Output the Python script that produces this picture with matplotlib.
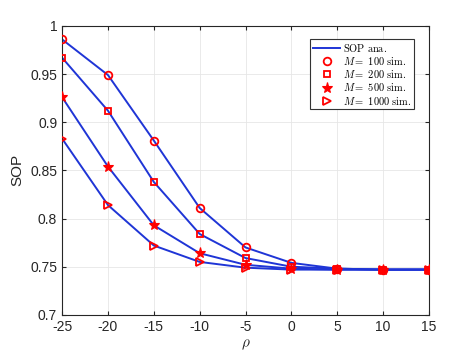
import matplotlib
matplotlib.use("Agg")
import matplotlib.pyplot as plt
import numpy as np

rho = [-25, -20, -15, -10, -5, 0, 5, 10, 15]
sop_m100 = [0.986, 0.949, 0.881, 0.811, 0.770, 0.754, 0.748, 0.747, 0.747]
sop_m200 = [0.967, 0.912, 0.838, 0.784, 0.759, 0.750, 0.748, 0.747, 0.747]
sop_m500 = [0.926, 0.854, 0.793, 0.764, 0.752, 0.748, 0.747, 0.747, 0.747]
sop_m1000 = [0.883, 0.814, 0.772, 0.755, 0.749, 0.747, 0.747, 0.747, 0.747]

series = [sop_m100, sop_m200, sop_m500, sop_m1000]
markers = ['o', 's', '*', '>']
msizes = [5.5, 4.5, 8, 5.5]
labels = [r'$M\mathrm{=\ 100\ sim.}$', r'$M\mathrm{=\ 200\ sim.}$',
          r'$M\mathrm{=\ 500\ sim.}$', r'$M\mathrm{=\ 1000\ sim.}$']

plt.rcParams['mathtext.fontset'] = 'cm'
plt.rcParams['font.family'] = ['Liberation Sans', 'DejaVu Sans']

fig = plt.figure(figsize=(4.74, 3.55), dpi=100)
ax = fig.add_axes([0.131, 0.113, 0.774, 0.814])

for s in series:
    ax.plot(rho, s, color='#1f35d6', lw=1.4, zorder=2)
handles = []
for s, m, ms, lab in zip(series, markers, msizes, labels):
    if m == '*':
        h, = ax.plot(rho, s, ls='none', marker=m, ms=ms, mfc='red', mec='red',
                     mew=0.8, label=lab, zorder=3)
    else:
        h, = ax.plot(rho, s, ls='none', marker=m, ms=ms, mfc='none', mec='red',
                     mew=1.3, label=lab, zorder=3)
    handles.append(h)

from matplotlib.lines import Line2D
ana = Line2D([], [], color='#1f35d6', lw=1.4)
leg = ax.legend([ana] + handles, [r'$\mathrm{SOP\ ana.}$'] + labels,
                loc='upper right', bbox_to_anchor=(0.96, 0.955),
                fontsize=7.5, fancybox=False, edgecolor='#333333',
                framealpha=1, borderpad=0.25, labelspacing=0.12,
                handlelength=2.6, handletextpad=0.3, borderaxespad=0)
leg.get_frame().set_linewidth(0.8)

ax.set_xlim(-25, 15)
ax.set_ylim(0.7, 1.0)
ax.set_xticks(rho)
ax.set_xticklabels([str(v) for v in rho])
ax.set_yticks([0.7, 0.75, 0.8, 0.85, 0.9, 0.95, 1.0])
ax.set_yticklabels(['0.7', '0.75', '0.8', '0.85', '0.9', '0.95', '1'])
ax.grid(True, color='#e6e6e6', lw=0.6)
ax.set_axisbelow(True)
for sp in ax.spines.values():
    sp.set_color('#262626')
    sp.set_linewidth(0.8)
ax.tick_params(direction='in', length=3, colors='#262626', labelsize=10,
               top=True, right=True, labeltop=False, labelright=False)
ax.set_xlabel(r'$\rho$', fontsize=11, color='#262626', labelpad=3)
ax.set_ylabel('SOP', fontsize=11, color='#262626', labelpad=4)

fig.savefig('out.png', dpi=100)
